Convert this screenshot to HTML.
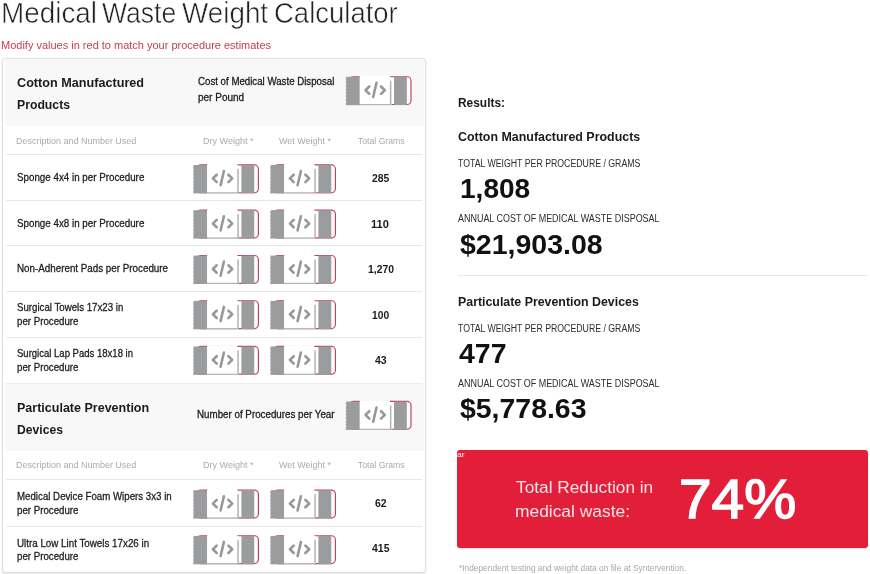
<!DOCTYPE html>
<html><head><meta charset="utf-8"><title>Medical Waste Weight Calculator</title>
<style>
*{margin:0;padding:0;box-sizing:border-box}
html,body{width:870px;height:574px;background:#fff;overflow:hidden}
body{position:relative;font-family:"Liberation Sans",sans-serif}
#L{position:absolute;left:0;top:0;width:870px;height:574px;will-change:transform}
.t{position:absolute;white-space:nowrap;line-height:1;transform-origin:0 0;display:block}
.card{position:absolute;left:2px;top:58px;width:424px;height:515px;background:#fff;border:1px solid #dedede;border-radius:4px;box-shadow:0 1px 2px rgba(0,0,0,.10)}
.gh{position:absolute;left:5px;width:419px;background:#f8f8f8}
.ln{position:absolute;left:6px;width:416px;height:1px;background:#e6e6e6}
.ov{position:absolute;left:0;top:0}
.red{position:absolute;left:457px;top:450px;width:411px;height:98px;background:#e21e38;border-radius:3px;box-shadow:0 1px 1px rgba(0,0,0,.12)}
.hr{position:absolute;left:458px;top:275px;width:409px;height:1px;background:#e8e8e8}
</style></head>
<body>
<div id="L">
<div class="card"></div>
<div class="gh" style="top:59.5px;height:66.5px"></div>
<div class="gh" style="top:383px;height:67.5px"></div>
<div class="ln" style="top:383px;background:#ececec"></div>
<div class="ln" style="top:154px"></div>
<div class="ln" style="top:200px"></div>
<div class="ln" style="top:245px"></div>
<div class="ln" style="top:291px"></div>
<div class="ln" style="top:337px"></div>
<div class="ln" style="top:479px"></div>
<div class="ln" style="top:526px"></div>
<div class="hr"></div>
<div class="red"></div>
<svg class="ov" width="870" height="574" viewBox="0 0 870 574"><symbol id="w" overflow="visible">
<rect x="3.5" y=".5" width="61.6" height="27.8" rx="4" fill="#fff" stroke="#c33f57" stroke-width="1.15"/>
<rect x="0" y=".6" width="13.9" height="28.4" fill="#9a9c9d"/>
<path d="M.35 .6V28.7" stroke="#fff" stroke-opacity=".55" stroke-width=".9" stroke-dasharray="1.3 2.2" fill="none"/>
<rect x="13.9" y="-.7" width="30.2" height="29.7" fill="#fff"/><rect x="44" y="1.2" width="1.6" height="27.8" fill="#fff"/>
<rect x="44" y="4.5" width="1.5" height="24.4" fill="#b2b3b4"/>
<rect x="13.9" y="27.8" width="31.6" height="1.2" fill="#b2b3b4"/>
<rect x="48.1" y=".6" width="12.9" height="28.3" fill="#9a9c9d"/>
<path d="M60.8 .6V28.7" stroke="#fff" stroke-opacity=".4" stroke-width=".7" stroke-dasharray="1.3 2.2" fill="none"/>
<g fill="none" stroke="#979999" stroke-width="2.6" stroke-linecap="round" stroke-linejoin="round" transform="translate(18 5.1)"><path d="M5.4 5.2 L1.6 8.9 L5.4 12.6"/><path d="M17.1 5.2 L20.9 8.9 L17.1 12.6"/><path d="M12.6 1.5 L9.3 15.7"/></g>
</symbol><use href="#w" x="345.9" y="76.2"/><use href="#w" x="345.9" y="400.9"/><use href="#w" x="193.3" y="164.4"/><use href="#w" x="270.3" y="164.4"/><use href="#w" x="193.3" y="209.6"/><use href="#w" x="270.3" y="209.6"/><use href="#w" x="193.3" y="255"/><use href="#w" x="270.3" y="255"/><use href="#w" x="193.3" y="300.3"/><use href="#w" x="270.3" y="300.3"/><use href="#w" x="193.3" y="345.9"/><use href="#w" x="270.3" y="345.9"/><use href="#w" x="193.3" y="489.6"/><use href="#w" x="270.3" y="489.6"/><use href="#w" x="193.3" y="535.3"/><use href="#w" x="270.3" y="535.3"/></svg>
<span class="t" style="left:1.02px;top:-1.23px;font-size:29.1px;font-weight:400;color:#222;transform:scaleX(0.9576);-webkit-text-stroke:.55px #fff;">Medical</span>
<span class="t" style="left:102.33px;top:-1.23px;font-size:29.1px;font-weight:400;color:#222;transform:scaleX(0.9127);-webkit-text-stroke:.55px #fff;">Waste</span>
<span class="t" style="left:181.82px;top:-1.23px;font-size:29.1px;font-weight:400;color:#222;transform:scaleX(0.9563);-webkit-text-stroke:.55px #fff;">Weight</span>
<span class="t" style="left:273.74px;top:-1.23px;font-size:29.1px;font-weight:400;color:#222;transform:scaleX(0.9447);-webkit-text-stroke:.55px #fff;">Calculator</span>
<span class="t" style="left:1.31px;top:40.43px;font-size:11.3px;font-weight:400;color:#c93a56;transform:scaleX(0.9730);">Modify values in red to match your procedure estimates</span>
<span class="t" style="left:17.00px;top:76.76px;font-size:12.8px;font-weight:700;color:#1a1a1a;transform:scaleX(0.9875);">Cotton Manufactured</span>
<span class="t" style="left:16.55px;top:98.76px;font-size:12.8px;font-weight:700;color:#1a1a1a;transform:scaleX(0.9556);">Products</span>
<span class="t" style="left:198.10px;top:75.74px;font-size:10.7px;font-weight:400;color:#1a1a1a;transform:scaleX(0.9063);-webkit-text-stroke:.3px;">Cost of Medical Waste Disposal</span>
<span class="t" style="left:198.03px;top:92.14px;font-size:10.7px;font-weight:400;color:#1a1a1a;transform:scaleX(0.9350);-webkit-text-stroke:.3px;">per Pound</span>
<span class="t" style="left:15.78px;top:136.42px;font-size:9.9px;font-weight:400;color:#aaaaaa;transform:scaleX(0.9098);">Description and Number Used</span>
<span class="t" style="left:202.78px;top:136.42px;font-size:9.9px;font-weight:400;color:#aaaaaa;transform:scaleX(0.9143);">Dry Weight *</span>
<span class="t" style="left:278.61px;top:136.42px;font-size:9.9px;font-weight:400;color:#aaaaaa;transform:scaleX(0.9069);">Wet Weight *</span>
<span class="t" style="left:357.86px;top:136.42px;font-size:9.9px;font-weight:400;color:#aaaaaa;transform:scaleX(0.8748);">Total Grams</span>
<span class="t" style="left:15.78px;top:460.22px;font-size:9.9px;font-weight:400;color:#aaaaaa;transform:scaleX(0.9098);">Description and Number Used</span>
<span class="t" style="left:202.78px;top:460.22px;font-size:9.9px;font-weight:400;color:#aaaaaa;transform:scaleX(0.9143);">Dry Weight *</span>
<span class="t" style="left:278.61px;top:460.22px;font-size:9.9px;font-weight:400;color:#aaaaaa;transform:scaleX(0.9069);">Wet Weight *</span>
<span class="t" style="left:357.86px;top:460.22px;font-size:9.9px;font-weight:400;color:#aaaaaa;transform:scaleX(0.8748);">Total Grams</span>
<span class="t" style="left:17.00px;top:172.17px;font-size:10.9px;font-weight:400;color:#1e1e1e;transform:scaleX(0.8987);-webkit-text-stroke:.3px;">Sponge 4x4 in per Procedure</span>
<span class="t" style="left:17.00px;top:217.57px;font-size:10.9px;font-weight:400;color:#1e1e1e;transform:scaleX(0.8987);-webkit-text-stroke:.3px;">Sponge 4x8 in per Procedure</span>
<span class="t" style="left:17.40px;top:262.97px;font-size:10.9px;font-weight:400;color:#1e1e1e;transform:scaleX(0.9006);-webkit-text-stroke:.3px;">Non-Adherent Pads per Procedure</span>
<span class="t" style="left:17.00px;top:302.17px;font-size:10.9px;font-weight:400;color:#1e1e1e;transform:scaleX(0.8882);-webkit-text-stroke:.3px;">Surgical Towels 17x23 in</span>
<span class="t" style="left:17.00px;top:315.67px;font-size:10.9px;font-weight:400;color:#1e1e1e;transform:scaleX(0.8899);-webkit-text-stroke:.3px;">per Procedure</span>
<span class="t" style="left:17.00px;top:348.07px;font-size:10.9px;font-weight:400;color:#1e1e1e;transform:scaleX(0.8748);-webkit-text-stroke:.3px;">Surgical Lap Pads 18x18 in</span>
<span class="t" style="left:17.00px;top:361.67px;font-size:10.9px;font-weight:400;color:#1e1e1e;transform:scaleX(0.8899);-webkit-text-stroke:.3px;">per Procedure</span>
<span class="t" style="left:17.41px;top:490.97px;font-size:10.9px;font-weight:400;color:#1e1e1e;transform:scaleX(0.8907);-webkit-text-stroke:.3px;">Medical Device Foam Wipers 3x3 in</span>
<span class="t" style="left:17.00px;top:504.77px;font-size:10.9px;font-weight:400;color:#1e1e1e;transform:scaleX(0.8899);-webkit-text-stroke:.3px;">per Procedure</span>
<span class="t" style="left:17.00px;top:538.47px;font-size:10.9px;font-weight:400;color:#1e1e1e;transform:scaleX(0.8997);-webkit-text-stroke:.3px;">Ultra Low Lint Towels 17x26 in</span>
<span class="t" style="left:17.00px;top:551.27px;font-size:10.9px;font-weight:400;color:#1e1e1e;transform:scaleX(0.8899);-webkit-text-stroke:.3px;">per Procedure</span>
<span class="t" style="left:16.50px;top:400.61px;font-size:13.1px;font-weight:700;color:#1a1a1a;transform:scaleX(0.9558);">Particulate Prevention</span>
<span class="t" style="left:16.56px;top:423.41px;font-size:13.1px;font-weight:700;color:#1a1a1a;transform:scaleX(0.9274);">Devices</span>
<span class="t" style="left:197.04px;top:409.44px;font-size:10.7px;font-weight:400;color:#1a1a1a;transform:scaleX(0.9150);-webkit-text-stroke:.3px;">Number of Procedures per Year</span>
<span class="t" style="left:372.00px;top:173.49px;font-size:11.0px;font-weight:700;color:#1a1a1a;transform:scaleX(0.9440);">285</span>
<span class="t" style="left:370.95px;top:219.29px;font-size:11.0px;font-weight:700;color:#1a1a1a;transform:scaleX(1.0036);">110</span>
<span class="t" style="left:367.63px;top:264.49px;font-size:11.0px;font-weight:700;color:#1a1a1a;transform:scaleX(0.9470);">1,270</span>
<span class="t" style="left:371.58px;top:310.29px;font-size:11.0px;font-weight:700;color:#1a1a1a;transform:scaleX(0.9297);">100</span>
<span class="t" style="left:374.60px;top:354.69px;font-size:11.0px;font-weight:700;color:#1a1a1a;transform:scaleX(0.9539);">43</span>
<span class="t" style="left:374.60px;top:498.29px;font-size:11.0px;font-weight:700;color:#1a1a1a;transform:scaleX(0.9536);">62</span>
<span class="t" style="left:371.61px;top:542.89px;font-size:11.0px;font-weight:700;color:#1a1a1a;transform:scaleX(0.9504);">415</span>
<span class="t" style="left:457.59px;top:97.36px;font-size:12.1px;font-weight:700;color:#1a1a1a;transform:scaleX(0.9856);">Results:</span>
<span class="t" style="left:458.39px;top:130.68px;font-size:12.9px;font-weight:700;color:#1a1a1a;transform:scaleX(0.9636);">Cotton Manufactured Products</span>
<span class="t" style="left:458.16px;top:159.23px;font-size:10.0px;font-weight:400;color:#2b2b2b;transform:scaleX(0.8746);">TOTAL WEIGHT PER PROCEDURE / GRAMS</span>
<span class="t" style="left:460.05px;top:174.64px;font-size:27.6px;font-weight:700;color:#111;transform:scaleX(1.0167);">1,808</span>
<span class="t" style="left:458.17px;top:213.84px;font-size:10.0px;font-weight:400;color:#2b2b2b;transform:scaleX(0.8963);">ANNUAL COST OF MEDICAL WASTE DISPOSAL</span>
<span class="t" style="left:460.40px;top:231.24px;font-size:27.6px;font-weight:700;color:#111;transform:scaleX(1.0329);">$21,903.08</span>
<span class="t" style="left:457.59px;top:295.81px;font-size:12.9px;font-weight:700;color:#1a1a1a;transform:scaleX(0.9594);">Particulate Prevention Devices</span>
<span class="t" style="left:458.16px;top:324.04px;font-size:10.0px;font-weight:400;color:#2b2b2b;transform:scaleX(0.8746);">TOTAL WEIGHT PER PROCEDURE / GRAMS</span>
<span class="t" style="left:459.19px;top:340.44px;font-size:27.6px;font-weight:700;color:#111;transform:scaleX(1.0312);">477</span>
<span class="t" style="left:458.17px;top:378.64px;font-size:10.0px;font-weight:400;color:#2b2b2b;transform:scaleX(0.8963);">ANNUAL COST OF MEDICAL WASTE DISPOSAL</span>
<span class="t" style="left:460.00px;top:395.04px;font-size:27.6px;font-weight:700;color:#111;transform:scaleX(1.0303);">$5,778.63</span>
<span class="t" style="left:515.81px;top:480.38px;font-size:16.8px;font-weight:400;color:#fde4e8;transform:scaleX(1.0286);">Total Reduction in</span>
<span class="t" style="left:514.77px;top:504.18px;font-size:16.8px;font-weight:400;color:#fde4e8;transform:scaleX(1.0358);">medical waste:</span>
<span class="t" style="left:679.26px;top:472.33px;font-size:54.9px;font-weight:400;color:#ffffff;transform:scaleX(1.0667);-webkit-text-stroke:1.5px #ffffff;">74%</span>
<span class="t" style="left:456.99px;top:451.40px;font-size:7.8px;font-weight:400;color:#ffffff;transform:scaleX(1.0899);">ar</span>
<span class="t" style="left:458.52px;top:563.84px;font-size:8.7px;font-weight:400;color:#a8a8a8;transform:scaleX(0.9601);">*Independent testing and weight data on file at Syntervention.</span>
</div>
</body></html>
